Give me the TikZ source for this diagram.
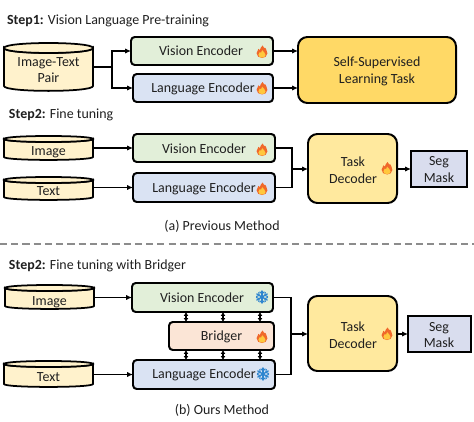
\documentclass[tikz,border=0pt]{standalone}
\usepackage{fontspec}
\setmainfont{Carlito}
\usetikzlibrary{arrows.meta,calc}
\definecolor{txt}{HTML}{1F1F1F}
\definecolor{cylfill}{HTML}{FFF2CC}
\definecolor{vefill}{HTML}{E2EFD9}
\definecolor{lefill}{HTML}{DAE3F3}
\definecolor{brfill}{HTML}{FBE5D6}
\definecolor{sslfill}{HTML}{FFD966}
\definecolor{decfill}{HTML}{FFE99E}
\definecolor{segfill}{HTML}{D9DDEE}
\definecolor{flameA}{HTML}{F0682A}
\definecolor{flameB}{HTML}{FFC83D}
\definecolor{snowc}{HTML}{2F86CF}
\tikzset{
  x=0.03cm,y=-0.03cm,
  every node/.style={font=\fontsize{11.9pt}{14.3pt}\selectfont,text=txt,inner sep=0pt,outer sep=0pt},
  boxshape/.style={draw=black,line width=1.7pt,rounded corners=3.2pt},
  ssl/.style={boxshape,rounded corners=8pt,fill=sslfill},
  dec/.style={boxshape,rounded corners=8pt,fill=decfill},
  seg/.style={draw=black,line width=1.7pt,fill=segfill},
  lbl/.style={align=center},
  conn/.style={draw=black,line width=1.3pt,-{Latex[length=5pt,width=4.5pt]}},
  plain/.style={draw=black,line width=1.3pt},
  bi/.style={draw=black,line width=1.2pt,{Latex[length=3.4pt,width=4.2pt]}-{Latex[length=3.4pt,width=4.2pt]}},
  flame/.pic={
    \fill[flameA] (0.6,-6.5) .. controls (1.2,-3.5) and (3,-4) .. (3.4,-4.2)
      .. controls (3.2,-3) and (5.6,-1.5) .. (5.4,1.5)
      .. controls (5.2,4.5) and (2.5,6) .. (0,6)
      .. controls (-3,6) and (-5.4,4.2) .. (-5.4,1.2)
      .. controls (-5.4,-1) and (-4,-1.5) .. (-3.6,-3.2)
      .. controls (-2.8,-2.6) and (-2.4,-2.2) .. (-2.2,-1.8)
      .. controls (-1.8,-3.5) and (-0.8,-5.5) .. (0.6,-6.5) -- cycle;
    \fill[flameB] (0.2,-1.8) .. controls (0.6,-0.6) and (3.6,0.4) .. (3.6,3)
      .. controls (3.6,4.8) and (1.6,5.6) .. (0,5.6)
      .. controls (-1.8,5.6) and (-3.6,4.6) .. (-3.6,2.8)
      .. controls (-3.6,1.4) and (-2.6,0.8) .. (-2.2,0)
      .. controls (-1.6,0.4) and (-1.2,0.6) .. (-1,0.8)
      .. controls (-1,-0.2) and (-0.4,-1.2) .. (0.2,-1.8) -- cycle;
  },
  snowflake/.pic={
    \foreach \r in {0,60,...,300}{
      \begin{scope}[rotate=\r]
        \draw[snowc,line width=1.15pt,line cap=round] (0,0) -- (0,-6);
        \draw[snowc,line width=0.9pt,line cap=round] (-2.3,-5.1) -- (0,-3.2) -- (2.3,-5.1);
      \end{scope}
    }
  },
}
% name, x1,y1,x2,y2, style
\newcommand{\bx}[6]{\node[#6,minimum width={(#4-#2)*0.03cm},minimum height={(#5-#3)*0.03cm}] (#1) at ({(#2+#4)/2},{(#3+#5)/2}) {};}
% name, x1,y1,x2,y2, cap height, text, text offset
\newcommand{\cyl}[8]{%
  \draw[draw=black,line width=1.5pt,fill=cylfill] (#2,#3+#6) -- (#2,#5-#6) .. controls (#2,#5+0.3*#6) and (#4,#5+0.3*#6) .. (#4,#5-#6) -- (#4,#3+#6) .. controls (#4,#3+#6+1.3*#6) and (#2,#3+#6+1.3*#6) .. (#2,#3+#6) -- cycle;
  \draw[draw=black,line width=1.5pt,fill=cylfill] (#2,#3+#6) .. controls (#2,#3-0.33*#6) and (#4,#3-0.33*#6) .. (#4,#3+#6) .. controls (#4,#3+2.33*#6) and (#2,#3+2.33*#6) .. (#2,#3+#6) -- cycle;
  \node[lbl,minimum width={(#4-#2)*0.03cm},minimum height={(#5-#3)*0.03cm}] (#1) at ({(#2+#4)/2},{(#3+#5)/2+#8}) {#7};}
\begin{document}
\begin{tikzpicture}
\useasboundingbox (0,0) rectangle (474,422);
\fill[white] (0,0) rectangle (474,422);

\node[anchor=west] (s1) at (7,21) {\textbf{Step1:} Vision Language Pre-training};
\node[anchor=west] (s2) at (9,115) {\textbf{Step2:} Fine tuning};
\node[anchor=west] (s3) at (9,265.5) {\textbf{Step2:} Fine tuning with Bridger};

% Step 1
\cyl{c1}{4}{43}{93}{91}{5}{Image-Text\\Pair}{3}
\bx{ve1}{131}{37}{273}{65}{boxshape,fill=vefill}
\bx{le1}{133}{74}{273}{102}{boxshape,fill=lefill}
\bx{ssl}{298}{37}{456}{103}{ssl}
\node[lbl] (ve1t) at (201,51) {Vision Encoder};
\node[lbl] (le1t) at (203,88.5) {Language Encoder};
\node[lbl] (sslt) at (377,71) {Self-Supervised\\Learning Task};
\pic at (262,52) {flame};
\pic at (262,88.5) {flame};
\coordinate (j1) at (112,67);
\draw[plain] (c1.east |- j1) -- (j1);
\draw[conn] (j1) |- (ve1.west);
\draw[conn] (j1) |- (le1.west);
\draw[conn] (ve1.east) -- (ssl.west |- ve1.east);
\draw[conn] (le1.east) -- (ssl.west |- le1.east);

% Step 2
\cyl{c2}{4}{136}{93}{160}{3}{Image}{4.5}
\cyl{c3}{4}{177}{93}{200}{3}{Text}{3}
\bx{ve2}{133}{134}{275}{162}{boxshape,fill=vefill}
\bx{le2}{133}{173}{275}{202}{boxshape,fill=lefill}
\bx{dec1}{308}{134}{397}{203}{dec}
\bx{seg1}{411}{151}{467}{187}{seg}
\node[lbl] (ve2t) at (204,148.5) {Vision Encoder};
\node[lbl] (le2t) at (204,188.5) {Language Encoder};
\node[lbl] (dec1t) at (353,170) {Task\\Decoder};
\node[lbl] (seg1t) at (439,169.5) {Seg\\Mask};
\pic at (262,150) {flame};
\pic at (262,189) {flame};
\pic at (387,168.5) {flame};
\coordinate (j2) at (292,169);
\draw[conn] (c2.east |- ve2.west) -- (ve2.west);
\draw[conn] (c3.east |- le2.west) -- (le2.west);
\draw[plain] (ve2.east) -- (j2 |- ve2.east) -- (j2 |- le2.east) -- (le2.east);
\draw[conn] (j2) -- (dec1.west |- j2);
\draw[conn] (dec1.east |- j2) -- (seg1.west |- j2);

\node (capa) at (222,226) {(a) Previous Method};
\coordinate (dl) at (0,244);
\coordinate (dr) at (474,244);
\draw[draw=black!45,line width=1pt,dash pattern=on 6pt off 3.6pt] (dl) -- (dr);

% Ours
\cyl{c4}{5}{285}{94}{309}{3}{Image}{5}
\cyl{c5}{4}{361}{93}{387}{3}{Text}{2.8}
\bx{ve3}{132}{283}{273}{312}{boxshape,fill=vefill}
\bx{br}{169}{322}{274}{350}{boxshape,fill=brfill}
\bx{le3}{133}{360}{275}{389}{boxshape,fill=lefill}
\bx{dec2}{308}{296}{397}{371}{dec}
\bx{seg2}{408}{316}{471}{352}{seg}
\node[lbl] (ve3t) at (202,297.5) {Vision Encoder};
\node (brt) at (221.5,336.5) {Bridger};
\node[lbl] (le3t) at (204,375) {Language Encoder};
\node[lbl] (dec2t) at (353,335.5) {Task\\Decoder};
\node[lbl] (seg2t) at (439,335) {Seg\\Mask};
\pic at (262,297) {snowflake};
\pic at (262,337) {flame};
\pic at (263,374) {snowflake};
\pic at (387,334) {flame};
\coordinate (b1) at (186,0);
\coordinate (b2) at (223,0);
\coordinate (b3) at (260,0);
\foreach \b in {b1,b2,b3}{
  \draw[bi] (ve3.south -| \b) -- (br.north -| \b);
  \draw[bi] (br.south -| \b) -- (le3.north -| \b);
}
\coordinate (j3) at (291,334);
\draw[conn] (c4.east |- ve3.west) -- (ve3.west);
\draw[conn] (c5.east |- le3.west) -- (le3.west);
\draw[plain] (ve3.east) -- (j3 |- ve3.east) -- (j3 |- le3.east) -- (le3.east);
\draw[conn] (j3) -- (dec2.west |- j3);
\draw[conn] (dec2.east |- j3) -- (seg2.west |- j3);
\node (capb) at (222,410) {(b) Ours Method};
\end{tikzpicture}
\end{document}
